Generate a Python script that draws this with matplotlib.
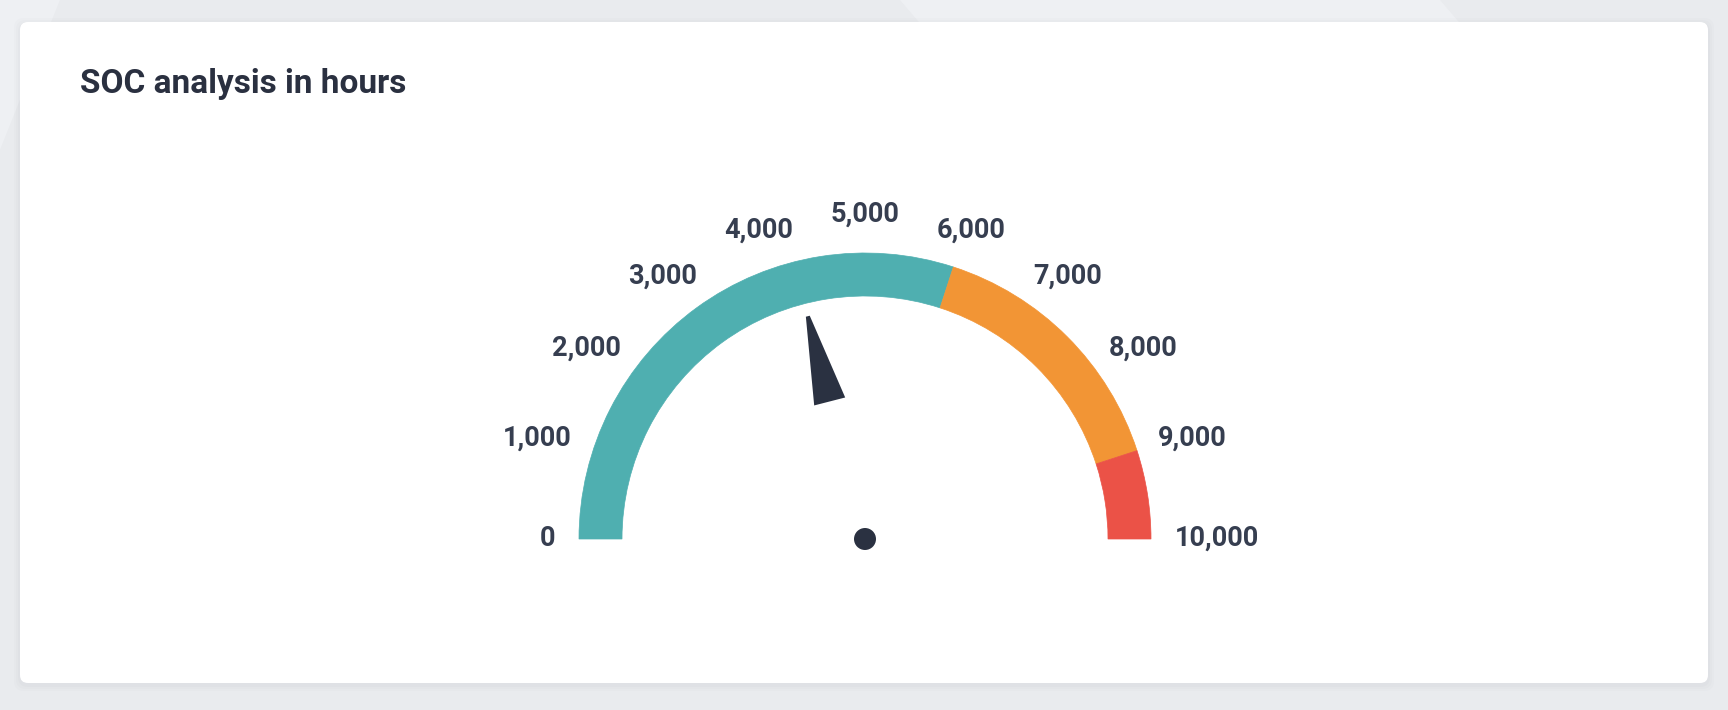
import numpy as np
import matplotlib
matplotlib.use("Agg")
import matplotlib.pyplot as plt
from matplotlib.patches import Wedge, Circle, Polygon, FancyBboxPatch

# gauge data
title = "SOC analysis in hours"
gauge_min = 0
gauge_max = 10000
tick_values = [0, 1000, 2000, 3000, 4000, 5000, 6000, 7000, 8000, 9000, 10000]
band_from = [0, 6000, 9000]
band_to = [6000, 9000, 10000]
band_colors = ["#4fafb0", "#f29535", "#eb5247"]
needle_value = 4200

W, H = 1728, 710
fig = plt.figure(figsize=(W / 100, H / 100), dpi=100)
fig.patch.set_facecolor("#e9ebee")
ax = fig.add_axes([0, 0, 1, 1])
ax.set_xlim(0, W)
ax.set_ylim(0, H)
ax.set_aspect("equal")
ax.axis("off")

# faint background shapes
ax.add_patch(Polygon([[900, 710], [960, 640], [1500, 640], [1440, 710]],
                     closed=True, facecolor="#eef0f3", edgecolor="none", zorder=0))
ax.add_patch(Polygon([[0, 560], [60, 710], [0, 710]],
                     closed=True, facecolor="#eef0f3", edgecolor="none", zorder=0))

# card with soft shadow
for i, a in enumerate([0.025, 0.025, 0.03]):
    pad = 6 - 2 * i
    ax.add_patch(FancyBboxPatch((20 - pad, 27 - pad - 2), 1688 + 2 * pad, 661 + 2 * pad,
                                boxstyle="round,pad=0,rounding_size=10",
                                facecolor="#7a8090", alpha=a, edgecolor="none", zorder=1))
ax.add_patch(FancyBboxPatch((20, 27), 1688, 661, boxstyle="round,pad=0,rounding_size=8",
                            facecolor="white", edgecolor="none", zorder=2))

ax.text(80, 626, title, fontsize=24, fontweight="bold", color="#2a3040",
        family=["Roboto", "DejaVu Sans"], ha="left", va="center", zorder=5)

cx, cy = 865, 171
r_out, r_in = 286, 243


def to_angle(v):
    return 180.0 * (1 - (v - gauge_min) / (gauge_max - gauge_min))


# colour bands
for v0, v1, col in zip(band_from, band_to, band_colors):
    ax.add_patch(Wedge((cx, cy), r_out, to_angle(v1), to_angle(v0), width=r_out - r_in,
                       facecolor=col, edgecolor=col, linewidth=0.5, zorder=3))

# tick labels
r_lab = 310
labels = []
for v in tick_values:
    t = ax.text(cx, cy, f"{v:,}", fontsize=19.5, fontweight="bold", color="#363e50",
                family=["Roboto", "DejaVu Sans"], ha="center", va="center", zorder=5)
    labels.append((v, t))
fig.canvas.draw()
renderer = fig.canvas.get_renderer()
for v, t in labels:
    bb = t.get_window_extent(renderer)
    th = np.deg2rad(to_angle(v))
    px = cx + r_lab * np.cos(th) + bb.width / 2 * np.cos(th)
    py = cy + r_lab * np.sin(th) + bb.height / 2 * np.sin(th) + 1
    t.set_position((px, py))

# needle
th = np.deg2rad(to_angle(needle_value))
u = np.array([np.cos(th), np.sin(th)])
n = np.array([-np.sin(th), np.cos(th)])
c = np.array([cx, cy])
r_base, r_tip = 142, 230
w_base, w_tip = 16, 2
pts = [c + u * r_base + n * w_base, c + u * r_tip + n * w_tip,
       c + u * r_tip - n * w_tip, c + u * r_base - n * w_base]
ax.add_patch(Polygon(pts, closed=True, facecolor="#2a3141", edgecolor="none", zorder=4))
ax.add_patch(Circle((cx, cy), 11, facecolor="#2a3141", edgecolor="none", zorder=4))

fig.savefig("out.png", dpi=100, facecolor=fig.get_facecolor())
